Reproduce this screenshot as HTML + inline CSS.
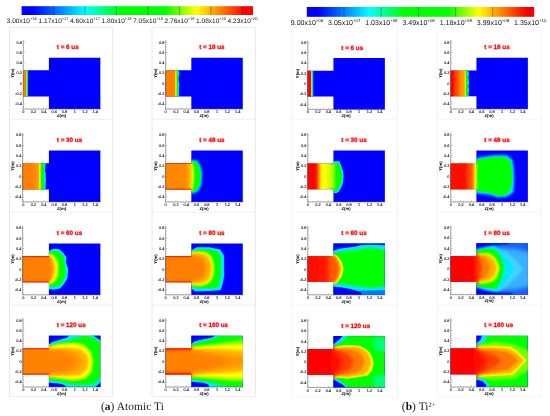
<!DOCTYPE html><html><head><meta charset="utf-8"><title>Figure</title>
<style>html,body{margin:0;padding:0;background:#fff}svg{display:block}text{font-family:"Liberation Sans",sans-serif;text-rendering:geometricPrecision}.cap{font-family:"Liberation Serif","DejaVu Serif",serif}.ty{font-size:3.85px;text-anchor:end;fill:#000;stroke:#000;stroke-width:.08px}.tx{font-size:3.85px;text-anchor:middle;fill:#000;stroke:#000;stroke-width:.08px}.al{font-size:4.2px;font-weight:bold;text-anchor:middle;fill:#000}.tt{font-size:6.3px;font-weight:bold;fill:#f00;stroke:#f00;stroke-width:.25px}</style></head><body>
<svg width="550" height="416" viewBox="0 0 550 416">
<defs>
<linearGradient id="rb" x1="0" x2="1" y1="0" y2="0"><stop offset="0" stop-color="#0000ff"/><stop offset="0.05" stop-color="#0000ff"/><stop offset="0.14" stop-color="#0064ff"/><stop offset="0.275" stop-color="#00ffff"/><stop offset="0.43" stop-color="#00ff00"/><stop offset="0.62" stop-color="#00ff00"/><stop offset="0.755" stop-color="#ffff00"/><stop offset="0.965" stop-color="#ff0000"/><stop offset="1" stop-color="#ff0000"/></linearGradient>
<filter id="b3" x="-10%" y="-10%" width="120%" height="120%"><feGaussianBlur stdDeviation="0.3"/></filter>
<filter id="b4" x="-10%" y="-10%" width="120%" height="120%"><feGaussianBlur stdDeviation="0.4"/></filter>
<filter id="b6" x="-10%" y="-10%" width="120%" height="120%"><feGaussianBlur stdDeviation="0.6"/></filter>
<filter id="b8" x="-10%" y="-10%" width="120%" height="120%"><feGaussianBlur stdDeviation="0.8"/></filter>
<filter id="b10" x="-10%" y="-10%" width="120%" height="120%"><feGaussianBlur stdDeviation="1.0"/></filter>
<filter id="b13" x="-10%" y="-10%" width="120%" height="120%"><feGaussianBlur stdDeviation="1.3"/></filter>
<filter id="b16" x="-10%" y="-10%" width="120%" height="120%"><feGaussianBlur stdDeviation="1.6"/></filter>
<filter id="b20" x="-10%" y="-10%" width="120%" height="120%"><feGaussianBlur stdDeviation="2.0"/></filter>
<clipPath id="c00"><path d="M23.00 70.23H48.92V57.68H100.38V109.12H48.92V96.57H23.00Z"/></clipPath>
<clipPath id="c01"><path d="M22.40 163.13H48.92V150.58H100.38V202.03H48.92V189.47H22.40Z"/></clipPath>
<clipPath id="c02"><path d="M22.40 256.03H48.92V243.47H100.38V294.93H48.92V282.37H22.40Z"/></clipPath>
<clipPath id="c03"><path d="M22.70 348.23H48.92V335.67H100.38V387.12H48.92V374.57H22.70Z"/></clipPath>
<clipPath id="c10"><path d="M165.40 70.23H191.32V57.68H242.78V109.12H191.32V96.57H165.40Z"/></clipPath>
<clipPath id="c11"><path d="M165.40 163.13H191.32V150.58H242.78V202.03H191.32V189.47H165.40Z"/></clipPath>
<clipPath id="c12"><path d="M165.40 256.03H191.32V243.47H242.78V294.93H191.32V282.37H165.40Z"/></clipPath>
<clipPath id="c13"><path d="M165.40 348.23H191.32V335.67H242.78V387.12H191.32V374.57H165.40Z"/></clipPath>
<clipPath id="c20"><path d="M307.50 70.84H333.43V57.98H384.88V109.43H333.43V96.56H307.50Z"/></clipPath>
<clipPath id="c21"><path d="M307.50 163.44H333.43V150.58H384.88V202.03H333.43V189.16H307.50Z"/></clipPath>
<clipPath id="c22"><path d="M307.50 256.34H333.43V243.47H384.88V294.93H333.43V282.06H307.50Z"/></clipPath>
<clipPath id="c23"><path d="M307.50 348.94H333.43V336.07H384.88V387.52H333.43V374.66H307.50Z"/></clipPath>
<clipPath id="c30"><path d="M450.50 70.54H476.43V57.68H527.88V109.12H476.43V96.26H450.50Z"/></clipPath>
<clipPath id="c31"><path d="M450.50 163.44H476.43V150.58H527.88V202.03H476.43V189.16H450.50Z"/></clipPath>
<clipPath id="c32"><path d="M450.50 256.14H476.43V243.28H527.88V294.73H476.43V281.86H450.50Z"/></clipPath>
<clipPath id="c33"><path d="M450.50 348.54H476.43V335.67H527.88V387.12H476.43V374.26H450.50Z"/></clipPath>
</defs>
<rect width="550" height="416" fill="#fff"/>
<rect x="21.6" y="6.2" width="231.4" height="8.8" fill="url(#rb)"/>
<line x1="53.4" x2="53.4" y1="6.2" y2="15.0" stroke="#222" stroke-width="0.5" stroke-opacity="0.8"/>
<line x1="84.9" x2="84.9" y1="6.2" y2="15.0" stroke="#222" stroke-width="0.5" stroke-opacity="0.8"/>
<line x1="116.4" x2="116.4" y1="6.2" y2="15.0" stroke="#222" stroke-width="0.5" stroke-opacity="0.8"/>
<line x1="147.9" x2="147.9" y1="6.2" y2="15.0" stroke="#222" stroke-width="0.5" stroke-opacity="0.8"/>
<line x1="179.4" x2="179.4" y1="6.2" y2="15.0" stroke="#222" stroke-width="0.5" stroke-opacity="0.8"/>
<line x1="210.9" x2="210.9" y1="6.2" y2="15.0" stroke="#222" stroke-width="0.5" stroke-opacity="0.8"/>
<line x1="242.4" x2="242.4" y1="6.2" y2="15.0" stroke="#222" stroke-width="0.5" stroke-opacity="0.8"/>
<text x="21.8" y="22.6" font-size="6.50" text-anchor="middle" fill="#111">3.00x10<tspan font-size="4.03" dy="-2.93">+16</tspan></text>
<text x="53.6" y="22.6" font-size="6.50" text-anchor="middle" fill="#111">1.17x10<tspan font-size="4.03" dy="-2.93">+17</tspan></text>
<text x="85.1" y="22.6" font-size="6.50" text-anchor="middle" fill="#111">4.60x10<tspan font-size="4.03" dy="-2.93">+17</tspan></text>
<text x="116.6" y="22.6" font-size="6.50" text-anchor="middle" fill="#111">1.80x10<tspan font-size="4.03" dy="-2.93">+18</tspan></text>
<text x="148.1" y="22.6" font-size="6.50" text-anchor="middle" fill="#111">7.05x10<tspan font-size="4.03" dy="-2.93">+18</tspan></text>
<text x="179.6" y="22.6" font-size="6.50" text-anchor="middle" fill="#111">2.76x10<tspan font-size="4.03" dy="-2.93">+19</tspan></text>
<text x="211.1" y="22.6" font-size="6.50" text-anchor="middle" fill="#111">1.08x10<tspan font-size="4.03" dy="-2.93">+20</tspan></text>
<text x="242.6" y="22.6" font-size="6.50" text-anchor="middle" fill="#111">4.23x10<tspan font-size="4.03" dy="-2.93">+20</tspan></text>
<rect x="306.8" y="7.0" width="227.4" height="9.8" fill="url(#rb)"/>
<line x1="344.0" x2="344.0" y1="7.0" y2="16.8" stroke="#222" stroke-width="0.5" stroke-opacity="0.8"/>
<line x1="381.2" x2="381.2" y1="7.0" y2="16.8" stroke="#222" stroke-width="0.5" stroke-opacity="0.8"/>
<line x1="418.4" x2="418.4" y1="7.0" y2="16.8" stroke="#222" stroke-width="0.5" stroke-opacity="0.8"/>
<line x1="455.6" x2="455.6" y1="7.0" y2="16.8" stroke="#222" stroke-width="0.5" stroke-opacity="0.8"/>
<line x1="492.8" x2="492.8" y1="7.0" y2="16.8" stroke="#222" stroke-width="0.5" stroke-opacity="0.8"/>
<line x1="530.0" x2="530.0" y1="7.0" y2="16.8" stroke="#222" stroke-width="0.5" stroke-opacity="0.8"/>
<text x="307.0" y="25.3" font-size="7.00" text-anchor="middle" fill="#111">9.00x10<tspan font-size="4.34" dy="-3.15">+06</tspan></text>
<text x="344.2" y="25.3" font-size="7.00" text-anchor="middle" fill="#111">3.05x10<tspan font-size="4.34" dy="-3.15">+07</tspan></text>
<text x="381.4" y="25.3" font-size="7.00" text-anchor="middle" fill="#111">1.03x10<tspan font-size="4.34" dy="-3.15">+08</tspan></text>
<text x="418.6" y="25.3" font-size="7.00" text-anchor="middle" fill="#111">3.49x10<tspan font-size="4.34" dy="-3.15">+08</tspan></text>
<text x="455.8" y="25.3" font-size="7.00" text-anchor="middle" fill="#111">1.18x10<tspan font-size="4.34" dy="-3.15">+09</tspan></text>
<text x="493.0" y="25.3" font-size="7.00" text-anchor="middle" fill="#111">3.99x10<tspan font-size="4.34" dy="-3.15">+09</tspan></text>
<text x="530.2" y="25.3" font-size="7.00" text-anchor="middle" fill="#111">1.35x10<tspan font-size="4.34" dy="-3.15">+10</tspan></text>
<path d="M9.5 27.4H112.7M9.5 119.3H112.7M9.5 212.2H112.7M9.5 305.1H112.7M9.5 396.5H112.7" fill="none" stroke="#ebebeb" stroke-width="0.8"/>
<path d="M9.5 27.4V396.5M112.7 27.4V396.5" fill="none" stroke="#e4e4e4" stroke-width="0.9"/>
<path d="M152.0 27.4H255.3M152.0 119.3H255.3M152.0 212.2H255.3M152.0 305.1H255.3M152.0 396.5H255.3" fill="none" stroke="#ebebeb" stroke-width="0.8"/>
<path d="M152.0 27.4V396.5M255.3 27.4V396.5" fill="none" stroke="#e4e4e4" stroke-width="0.9"/>
<path d="M291.6 27.4H397.5M291.6 119.3H397.5M291.6 212.2H397.5M291.6 305.1H397.5M291.6 396.5H397.5" fill="none" stroke="#f4f4f4" stroke-width="0.8"/>
<path d="M291.6 27.4V396.5M397.5 27.4V396.5" fill="none" stroke="#f2f2f2" stroke-width="0.9"/>
<path d="M437.3 27.4H540.8M437.3 119.3H540.8M437.3 212.2H540.8M437.3 305.1H540.8M437.3 396.5H540.8" fill="none" stroke="#f4f4f4" stroke-width="0.8"/>
<path d="M437.3 27.4V396.5M540.8 27.4V396.5" fill="none" stroke="#f2f2f2" stroke-width="0.9"/>
<g clip-path="url(#c00)">
<rect x="21.2" y="55.7" width="81.2" height="55.5" fill="#0000ff"/>
<g filter="url(#b4)">
<rect x="18.1" y="66.4" width="8.6" height="34.0" fill="#ff8000"/>
<rect x="26.2" y="66.4" width="1.0" height="34.0" fill="#ffff00"/>
<rect x="26.7" y="66.4" width="1.1" height="34.0" fill="#00ff00"/>
<rect x="27.3" y="66.4" width="0.8" height="34.0" fill="#00e8ff"/>
</g></g>
<path d="M23.2 39.9V109.1H100.4" fill="none" stroke="#5a5a66" stroke-width="0.5"/>
<path d="M23.2 109.1h0.8M23.2 106.6h0.8M23.2 104.0h1.5M23.2 101.4h0.8M23.2 98.8h0.8M23.2 96.3h0.8M23.2 93.7h1.5M23.2 91.1h0.8M23.2 88.5h0.8M23.2 86.0h0.8M23.2 83.4h1.5M23.2 80.8h0.8M23.2 78.3h0.8M23.2 75.7h0.8M23.2 73.1h1.5M23.2 70.5h0.8M23.2 68.0h0.8M23.2 65.4h0.8M23.2 62.8h1.5M23.2 60.2h0.8M23.2 57.7h0.8M23.2 55.1h0.8M23.2 52.5h1.5M23.2 50.0h0.8M23.2 47.4h0.8M23.2 44.8h0.8M23.2 42.2h1.5M23.2 109.1v-1.5M25.8 109.1v-0.8M28.3 109.1v-0.8M30.9 109.1v-0.8M33.5 109.1v-1.5M36.1 109.1v-0.8M38.6 109.1v-0.8M41.2 109.1v-0.8M43.8 109.1v-1.5M46.4 109.1v-0.8M48.9 109.1v-0.8M51.5 109.1v-0.8M54.1 109.1v-1.5M56.6 109.1v-0.8M59.2 109.1v-0.8M61.8 109.1v-0.8M64.4 109.1v-1.5M66.9 109.1v-0.8M69.5 109.1v-0.8M72.1 109.1v-0.8M74.7 109.1v-1.5M77.2 109.1v-0.8M79.8 109.1v-0.8M82.4 109.1v-0.8M84.9 109.1v-1.5M87.5 109.1v-0.8M90.1 109.1v-0.8M92.7 109.1v-0.8M95.2 109.1v-1.5M97.8 109.1v-0.8M100.4 109.1v-0.8" stroke="#5a5a66" stroke-width="0.45" fill="none"/>
<text x="21.9" y="43.5" class="ty">0.8</text>
<text x="21.9" y="53.8" class="ty">0.6</text>
<text x="21.9" y="64.1" class="ty">0.4</text>
<text x="21.9" y="74.4" class="ty">0.2</text>
<text x="21.9" y="84.7" class="ty">0</text>
<text x="21.9" y="95.0" class="ty">-0.2</text>
<text x="21.9" y="105.3" class="ty">-0.4</text>
<text x="23.2" y="113.1" class="tx">0</text>
<text x="33.5" y="113.1" class="tx">0.2</text>
<text x="43.8" y="113.1" class="tx">0.4</text>
<text x="54.1" y="113.1" class="tx">0.6</text>
<text x="64.4" y="113.1" class="tx">0.8</text>
<text x="74.7" y="113.1" class="tx">1</text>
<text x="84.9" y="113.1" class="tx">1.2</text>
<text x="95.2" y="113.1" class="tx">1.4</text>
<text x="61.6" y="116.7" class="al">Z(m)</text>
<text transform="translate(14.4 73.2) rotate(-90)" class="al">Y(m)</text>
<text x="56.8" y="49.2" class="tt">t = 6 us</text>
<g clip-path="url(#c01)">
<rect x="21.2" y="148.6" width="81.2" height="55.5" fill="#0000ff"/>
<g filter="url(#b4)">
<polygon points="33.5,159.3 45.3,159.3 45.9,163.4 45.3,166.7 44.7,169.9 45.8,173.1 45.6,176.3 45.9,179.5 45.7,182.7 45.6,185.9 45.5,189.2 45.3,193.3 33.5,193.3" fill="#00e8ff"/>
<polygon points="33.5,159.3 44.3,159.3 44.2,163.4 44.4,166.7 44.3,169.9 44.4,173.1 44.1,176.3 44.2,179.5 44.3,182.7 44.4,185.9 44.4,189.2 44.3,193.3 33.5,193.3" fill="#00ff00"/>
</g><g filter="url(#b4)">
<rect x="33.5" y="159.3" width="7.1" height="34.0" fill="#ffff00"/>
</g><g filter="url(#b6)">
<rect x="28.3" y="159.3" width="10.9" height="34.0" fill="#ffb010"/>
</g><g filter="url(#b8)">
<rect x="18.1" y="159.3" width="19.8" height="34.0" fill="#ff8c08"/>
</g><g filter="url(#b13)">
<rect x="18.1" y="159.3" width="15.4" height="34.0" fill="#ff8000"/>
</g></g>
<path d="M22.6 132.8V202.0H100.4" fill="none" stroke="#5a5a66" stroke-width="0.5"/>
<path d="M22.6 202.0h0.8M22.6 199.5h0.8M22.6 196.9h1.5M22.6 194.3h0.8M22.6 191.7h0.8M22.6 189.2h0.8M22.6 186.6h1.5M22.6 184.0h0.8M22.6 181.4h0.8M22.6 178.9h0.8M22.6 176.3h1.5M22.6 173.7h0.8M22.6 171.2h0.8M22.6 168.6h0.8M22.6 166.0h1.5M22.6 163.4h0.8M22.6 160.9h0.8M22.6 158.3h0.8M22.6 155.7h1.5M22.6 153.1h0.8M22.6 150.6h0.8M22.6 148.0h0.8M22.6 145.4h1.5M22.6 142.9h0.8M22.6 140.3h0.8M22.6 137.7h0.8M22.6 135.1h1.5M23.2 202.0v-1.5M25.8 202.0v-0.8M28.3 202.0v-0.8M30.9 202.0v-0.8M33.5 202.0v-1.5M36.1 202.0v-0.8M38.6 202.0v-0.8M41.2 202.0v-0.8M43.8 202.0v-1.5M46.4 202.0v-0.8M48.9 202.0v-0.8M51.5 202.0v-0.8M54.1 202.0v-1.5M56.6 202.0v-0.8M59.2 202.0v-0.8M61.8 202.0v-0.8M64.4 202.0v-1.5M66.9 202.0v-0.8M69.5 202.0v-0.8M72.1 202.0v-0.8M74.7 202.0v-1.5M77.2 202.0v-0.8M79.8 202.0v-0.8M82.4 202.0v-0.8M84.9 202.0v-1.5M87.5 202.0v-0.8M90.1 202.0v-0.8M92.7 202.0v-0.8M95.2 202.0v-1.5M97.8 202.0v-0.8M100.4 202.0v-0.8" stroke="#5a5a66" stroke-width="0.45" fill="none"/>
<text x="21.3" y="136.4" class="ty">0.8</text>
<text x="21.3" y="146.7" class="ty">0.6</text>
<text x="21.3" y="157.0" class="ty">0.4</text>
<text x="21.3" y="167.3" class="ty">0.2</text>
<text x="21.3" y="177.6" class="ty">0</text>
<text x="21.3" y="187.9" class="ty">-0.2</text>
<text x="21.3" y="198.2" class="ty">-0.4</text>
<text x="23.2" y="206.0" class="tx">0</text>
<text x="33.5" y="206.0" class="tx">0.2</text>
<text x="43.8" y="206.0" class="tx">0.4</text>
<text x="54.1" y="206.0" class="tx">0.6</text>
<text x="64.4" y="206.0" class="tx">0.8</text>
<text x="74.7" y="206.0" class="tx">1</text>
<text x="84.9" y="206.0" class="tx">1.2</text>
<text x="95.2" y="206.0" class="tx">1.4</text>
<text x="61.6" y="209.6" class="al">Z(m)</text>
<text transform="translate(13.8 166.1) rotate(-90)" class="al">Y(m)</text>
<text x="56.8" y="142.1" class="tt">t = 30 us</text>
<g clip-path="url(#c02)">
<rect x="21.2" y="241.5" width="81.2" height="55.5" fill="#0000ff"/>
<g filter="url(#b4)">
<rect x="18.1" y="252.2" width="30.9" height="34.0" fill="#ff8000"/>
<polygon points="48.6,251.2 53.2,248.8 58.9,249.1 63.3,252.9 66.6,257.3 65.8,262.2 68.2,268.7 67.4,278.5 64.1,283.8 60.1,288.4 53.2,289.7 48.6,288.9" fill="#00e8ff"/>
<polygon points="48.6,252.5 53.2,250.4 58.1,250.9 61.7,254.2 64.5,258.3 64.1,263.0 65.8,268.7 65.1,277.7 62.2,282.5 58.6,286.4 53.2,287.2 48.6,285.6" fill="#00ff00"/>
</g><g filter="url(#b8)">
<polygon points="47.5,254.3 51.9,254.3 55.8,257.8 57.8,263.0 58.4,268.7 57.8,275.3 55.3,280.5 51.1,283.9 47.5,284.3" fill="#ffff00"/>
</g><g filter="url(#b10)">
<polygon points="45.8,255.6 51.1,256.5 54.0,261.9 55.3,268.7 54.0,275.6 51.1,281.5 45.8,282.5" fill="#ffb000"/>
<polygon points="13.1,250.7 48.4,250.7 48.6,256.0 51.1,258.9 52.4,268.7 51.1,278.5 48.6,281.8 48.4,287.1 13.1,287.1" fill="#ff8000"/>
</g><g filter="url(#b4)">
<rect x="18.1" y="252.2" width="30.9" height="4.9" fill="#ff2000"/>
<rect x="18.1" y="281.3" width="30.9" height="4.9" fill="#ff2000"/>
</g></g>
<path d="M22.6 225.7V294.9H100.4" fill="none" stroke="#5a5a66" stroke-width="0.5"/>
<path d="M22.6 294.9h0.8M22.6 292.4h0.8M22.6 289.8h1.5M22.6 287.2h0.8M22.6 284.6h0.8M22.6 282.1h0.8M22.6 279.5h1.5M22.6 276.9h0.8M22.6 274.3h0.8M22.6 271.8h0.8M22.6 269.2h1.5M22.6 266.6h0.8M22.6 264.1h0.8M22.6 261.5h0.8M22.6 258.9h1.5M22.6 256.3h0.8M22.6 253.8h0.8M22.6 251.2h0.8M22.6 248.6h1.5M22.6 246.0h0.8M22.6 243.5h0.8M22.6 240.9h0.8M22.6 238.3h1.5M22.6 235.8h0.8M22.6 233.2h0.8M22.6 230.6h0.8M22.6 228.0h1.5M23.2 294.9v-1.5M25.8 294.9v-0.8M28.3 294.9v-0.8M30.9 294.9v-0.8M33.5 294.9v-1.5M36.1 294.9v-0.8M38.6 294.9v-0.8M41.2 294.9v-0.8M43.8 294.9v-1.5M46.4 294.9v-0.8M48.9 294.9v-0.8M51.5 294.9v-0.8M54.1 294.9v-1.5M56.6 294.9v-0.8M59.2 294.9v-0.8M61.8 294.9v-0.8M64.4 294.9v-1.5M66.9 294.9v-0.8M69.5 294.9v-0.8M72.1 294.9v-0.8M74.7 294.9v-1.5M77.2 294.9v-0.8M79.8 294.9v-0.8M82.4 294.9v-0.8M84.9 294.9v-1.5M87.5 294.9v-0.8M90.1 294.9v-0.8M92.7 294.9v-0.8M95.2 294.9v-1.5M97.8 294.9v-0.8M100.4 294.9v-0.8" stroke="#5a5a66" stroke-width="0.45" fill="none"/>
<text x="21.3" y="229.3" class="ty">0.8</text>
<text x="21.3" y="239.6" class="ty">0.6</text>
<text x="21.3" y="249.9" class="ty">0.4</text>
<text x="21.3" y="260.2" class="ty">0.2</text>
<text x="21.3" y="270.5" class="ty">0</text>
<text x="21.3" y="280.8" class="ty">-0.2</text>
<text x="21.3" y="291.1" class="ty">-0.4</text>
<text x="23.2" y="298.9" class="tx">0</text>
<text x="33.5" y="298.9" class="tx">0.2</text>
<text x="43.8" y="298.9" class="tx">0.4</text>
<text x="54.1" y="298.9" class="tx">0.6</text>
<text x="64.4" y="298.9" class="tx">0.8</text>
<text x="74.7" y="298.9" class="tx">1</text>
<text x="84.9" y="298.9" class="tx">1.2</text>
<text x="95.2" y="298.9" class="tx">1.4</text>
<text x="61.6" y="302.5" class="al">Z(m)</text>
<text transform="translate(13.8 259.0) rotate(-90)" class="al">Y(m)</text>
<text x="56.8" y="235.0" class="tt">t = 60 us</text>
<g clip-path="url(#c03)">
<rect x="21.2" y="333.7" width="81.2" height="55.5" fill="#0000ff"/>
<g filter="url(#b4)">
<rect x="48.9" y="335.7" width="51.5" height="51.5" fill="#00ff00"/>
<rect x="18.1" y="344.4" width="30.9" height="34.0" fill="#ff8000"/>
</g><g filter="url(#b8)">
<polygon points="47.7,334.6 82.6,334.6 77.7,338.0 72.3,338.8 68.5,340.6 61.4,341.7 55.9,342.8 51.5,344.2 47.7,346.4" fill="#00e8ff"/>
<polygon points="86.5,334.6 102.3,334.6 102.3,343.4 97.4,340.1 93.0,338.0" fill="#00e8ff"/>
<polygon points="47.7,379.9 51.5,380.7 55.9,381.2 61.4,381.8 66.8,383.2 73.4,384.3 81.0,385.0 88.6,384.8 94.1,383.7 97.4,381.0 102.3,377.2 102.3,389.2 47.7,389.2" fill="#00e8ff"/>
</g><g filter="url(#b4)">
<polygon points="47.7,334.6 69.9,334.6 67.1,337.6 61.6,339.3 56.1,341.0 51.8,342.1 50.7,343.4 47.7,344.6" fill="#0000ff"/>
<polygon points="91.9,334.6 102.3,334.6 102.3,341.4 98.5,338.9 96.1,337.5" fill="#0000ff"/>
<polygon points="47.7,382.3 51.5,382.9 55.9,383.2 61.6,383.9 65.1,385.6 67.9,389.2 47.7,389.2" fill="#0000ff"/>
<polygon points="93.0,389.2 102.3,389.2 102.3,381.0 98.2,384.5" fill="#0000ff"/>
</g><g filter="url(#b8)">
<polygon points="47.5,346.7 58.9,344.1 73.6,343.1 83.8,344.7 90.5,351.6 93.1,361.7 91.3,371.9 85.4,378.6 73.6,380.4 60.5,378.7 47.5,376.9" fill="#ffff00"/>
</g><g filter="url(#b13)">
<polygon points="47.5,349.0 67.1,347.7 80.3,349.3 86.9,355.2 88.7,361.7 86.9,369.1 80.3,375.0 67.1,376.0 47.5,375.3" fill="#ffb400"/>
</g><g filter="url(#b16)">
<polygon points="42.5,350.3 63.8,349.9 76.9,353.1 83.1,361.7 76.9,370.7 63.8,373.5 42.5,373.5" fill="#ff9600"/>
</g><g filter="url(#b20)">
<polygon points="13.1,343.7 48.4,343.7 48.6,350.3 63.8,352.7 72.3,357.6 74.9,361.7 72.3,365.8 63.8,370.7 48.6,373.5 48.4,380.1 13.1,380.1" fill="#ff8200"/>
</g><g filter="url(#b4)">
<rect x="18.1" y="344.4" width="30.9" height="4.9" fill="#ff2000"/>
<rect x="18.1" y="373.5" width="30.9" height="4.9" fill="#ff2000"/>
</g></g>
<path d="M22.9 317.9V387.1H100.4" fill="none" stroke="#5a5a66" stroke-width="0.5"/>
<path d="M22.9 387.1h0.8M22.9 384.6h0.8M22.9 382.0h1.5M22.9 379.4h0.8M22.9 376.8h0.8M22.9 374.3h0.8M22.9 371.7h1.5M22.9 369.1h0.8M22.9 366.5h0.8M22.9 364.0h0.8M22.9 361.4h1.5M22.9 358.8h0.8M22.9 356.3h0.8M22.9 353.7h0.8M22.9 351.1h1.5M22.9 348.5h0.8M22.9 346.0h0.8M22.9 343.4h0.8M22.9 340.8h1.5M22.9 338.2h0.8M22.9 335.7h0.8M22.9 333.1h0.8M22.9 330.5h1.5M22.9 328.0h0.8M22.9 325.4h0.8M22.9 322.8h0.8M22.9 320.2h1.5M23.2 387.1v-1.5M25.8 387.1v-0.8M28.3 387.1v-0.8M30.9 387.1v-0.8M33.5 387.1v-1.5M36.1 387.1v-0.8M38.6 387.1v-0.8M41.2 387.1v-0.8M43.8 387.1v-1.5M46.4 387.1v-0.8M48.9 387.1v-0.8M51.5 387.1v-0.8M54.1 387.1v-1.5M56.6 387.1v-0.8M59.2 387.1v-0.8M61.8 387.1v-0.8M64.4 387.1v-1.5M66.9 387.1v-0.8M69.5 387.1v-0.8M72.1 387.1v-0.8M74.7 387.1v-1.5M77.2 387.1v-0.8M79.8 387.1v-0.8M82.4 387.1v-0.8M84.9 387.1v-1.5M87.5 387.1v-0.8M90.1 387.1v-0.8M92.7 387.1v-0.8M95.2 387.1v-1.5M97.8 387.1v-0.8M100.4 387.1v-0.8" stroke="#5a5a66" stroke-width="0.45" fill="none"/>
<text x="21.6" y="321.5" class="ty">0.8</text>
<text x="21.6" y="331.8" class="ty">0.6</text>
<text x="21.6" y="342.1" class="ty">0.4</text>
<text x="21.6" y="352.4" class="ty">0.2</text>
<text x="21.6" y="362.7" class="ty">0</text>
<text x="21.6" y="373.0" class="ty">-0.2</text>
<text x="21.6" y="383.3" class="ty">-0.4</text>
<text x="23.2" y="391.1" class="tx">0</text>
<text x="33.5" y="391.1" class="tx">0.2</text>
<text x="43.8" y="391.1" class="tx">0.4</text>
<text x="54.1" y="391.1" class="tx">0.6</text>
<text x="64.4" y="391.1" class="tx">0.8</text>
<text x="74.7" y="391.1" class="tx">1</text>
<text x="84.9" y="391.1" class="tx">1.2</text>
<text x="95.2" y="391.1" class="tx">1.4</text>
<text x="61.6" y="394.7" class="al">Z(m)</text>
<text transform="translate(14.1 351.2) rotate(-90)" class="al">Y(m)</text>
<text x="56.8" y="327.2" class="tt">t = 120 us</text>
<g clip-path="url(#c10)">
<rect x="163.6" y="55.7" width="81.2" height="55.5" fill="#0000ff"/>
<g filter="url(#b4)">
<polygon points="170.7,66.4 179.1,66.4 178.8,70.5 179.5,73.8 178.5,77.0 178.5,80.2 179.2,83.4 179.2,86.6 178.9,89.8 179.1,93.0 178.8,96.3 179.1,100.4 170.7,100.4" fill="#00e8ff"/>
<polygon points="170.7,66.4 178.2,66.4 178.3,70.5 178.3,73.8 178.4,77.0 178.2,80.2 178.0,83.4 178.1,86.6 178.2,89.8 178.0,93.0 178.1,96.3 178.2,100.4 170.7,100.4" fill="#00ff00"/>
<rect x="170.7" y="66.4" width="5.8" height="34.0" fill="#ffff00"/>
<rect x="160.5" y="66.4" width="14.8" height="34.0" fill="#ff8000"/>
</g></g>
<path d="M165.6 39.9V109.1H242.8" fill="none" stroke="#5a5a66" stroke-width="0.5"/>
<path d="M165.6 109.1h0.8M165.6 106.6h0.8M165.6 104.0h1.5M165.6 101.4h0.8M165.6 98.8h0.8M165.6 96.3h0.8M165.6 93.7h1.5M165.6 91.1h0.8M165.6 88.5h0.8M165.6 86.0h0.8M165.6 83.4h1.5M165.6 80.8h0.8M165.6 78.3h0.8M165.6 75.7h0.8M165.6 73.1h1.5M165.6 70.5h0.8M165.6 68.0h0.8M165.6 65.4h0.8M165.6 62.8h1.5M165.6 60.2h0.8M165.6 57.7h0.8M165.6 55.1h0.8M165.6 52.5h1.5M165.6 50.0h0.8M165.6 47.4h0.8M165.6 44.8h0.8M165.6 42.2h1.5M165.6 109.1v-1.5M168.2 109.1v-0.8M170.7 109.1v-0.8M173.3 109.1v-0.8M175.9 109.1v-1.5M178.5 109.1v-0.8M181.0 109.1v-0.8M183.6 109.1v-0.8M186.2 109.1v-1.5M188.8 109.1v-0.8M191.3 109.1v-0.8M193.9 109.1v-0.8M196.5 109.1v-1.5M199.0 109.1v-0.8M201.6 109.1v-0.8M204.2 109.1v-0.8M206.8 109.1v-1.5M209.3 109.1v-0.8M211.9 109.1v-0.8M214.5 109.1v-0.8M217.1 109.1v-1.5M219.6 109.1v-0.8M222.2 109.1v-0.8M224.8 109.1v-0.8M227.3 109.1v-1.5M229.9 109.1v-0.8M232.5 109.1v-0.8M235.1 109.1v-0.8M237.6 109.1v-1.5M240.2 109.1v-0.8M242.8 109.1v-0.8" stroke="#5a5a66" stroke-width="0.45" fill="none"/>
<text x="164.3" y="43.5" class="ty">0.8</text>
<text x="164.3" y="53.8" class="ty">0.6</text>
<text x="164.3" y="64.1" class="ty">0.4</text>
<text x="164.3" y="74.4" class="ty">0.2</text>
<text x="164.3" y="84.7" class="ty">0</text>
<text x="164.3" y="95.0" class="ty">-0.2</text>
<text x="164.3" y="105.3" class="ty">-0.4</text>
<text x="165.6" y="113.1" class="tx">0</text>
<text x="175.9" y="113.1" class="tx">0.2</text>
<text x="186.2" y="113.1" class="tx">0.4</text>
<text x="196.5" y="113.1" class="tx">0.6</text>
<text x="206.8" y="113.1" class="tx">0.8</text>
<text x="217.1" y="113.1" class="tx">1</text>
<text x="227.3" y="113.1" class="tx">1.2</text>
<text x="237.6" y="113.1" class="tx">1.4</text>
<text x="204.0" y="116.7" class="al">Z(m)</text>
<text transform="translate(156.8 73.2) rotate(-90)" class="al">Y(m)</text>
<text x="199.2" y="49.2" class="tt">t = 18 us</text>
<g clip-path="url(#c11)">
<rect x="163.6" y="148.6" width="81.2" height="55.5" fill="#0000ff"/>
<g filter="url(#b4)">
<rect x="160.5" y="159.3" width="30.9" height="34.0" fill="#ff8800"/>
</g><g filter="url(#b8)">
<polygon points="190.8,159.9 197.0,160.2 199.8,164.5 201.5,169.1 202.1,174.5 201.8,181.0 201.1,185.5 199.0,190.1 195.5,192.9 190.8,193.5" fill="#00e8ff"/>
</g><g filter="url(#b4)">
<polygon points="190.8,161.3 196.4,161.5 198.7,165.1 200.2,169.3 200.7,174.5 200.4,180.8 199.7,184.9 197.8,188.9 194.8,191.4 190.8,192.0" fill="#00ff00"/>
</g><g filter="url(#b8)">
<polygon points="188.4,159.3 192.0,162.6 193.2,166.9 193.8,171.2 193.9,176.6 193.7,182.1 193.0,186.4 192.0,190.5 188.4,194.0" fill="#ffff00"/>
</g><g filter="url(#b10)">
<polygon points="184.4,159.3 190.3,161.5 191.3,168.0 191.5,176.6 191.3,184.2 190.3,191.3 184.4,194.0" fill="#ffb000"/>
</g><g filter="url(#b16)">
<polygon points="154.6,158.2 185.4,158.2 187.3,168.0 187.7,176.6 187.3,185.3 185.4,195.0 154.6,195.0" fill="#ff8800"/>
</g><g filter="url(#b3)">
<rect x="160.5" y="159.3" width="30.9" height="4.7" fill="#f02800"/>
<rect x="160.5" y="188.6" width="30.9" height="4.7" fill="#f02800"/>
</g></g>
<path d="M165.6 132.8V202.0H242.8" fill="none" stroke="#5a5a66" stroke-width="0.5"/>
<path d="M165.6 202.0h0.8M165.6 199.5h0.8M165.6 196.9h1.5M165.6 194.3h0.8M165.6 191.7h0.8M165.6 189.2h0.8M165.6 186.6h1.5M165.6 184.0h0.8M165.6 181.4h0.8M165.6 178.9h0.8M165.6 176.3h1.5M165.6 173.7h0.8M165.6 171.2h0.8M165.6 168.6h0.8M165.6 166.0h1.5M165.6 163.4h0.8M165.6 160.9h0.8M165.6 158.3h0.8M165.6 155.7h1.5M165.6 153.1h0.8M165.6 150.6h0.8M165.6 148.0h0.8M165.6 145.4h1.5M165.6 142.9h0.8M165.6 140.3h0.8M165.6 137.7h0.8M165.6 135.1h1.5M165.6 202.0v-1.5M168.2 202.0v-0.8M170.7 202.0v-0.8M173.3 202.0v-0.8M175.9 202.0v-1.5M178.5 202.0v-0.8M181.0 202.0v-0.8M183.6 202.0v-0.8M186.2 202.0v-1.5M188.8 202.0v-0.8M191.3 202.0v-0.8M193.9 202.0v-0.8M196.5 202.0v-1.5M199.0 202.0v-0.8M201.6 202.0v-0.8M204.2 202.0v-0.8M206.8 202.0v-1.5M209.3 202.0v-0.8M211.9 202.0v-0.8M214.5 202.0v-0.8M217.1 202.0v-1.5M219.6 202.0v-0.8M222.2 202.0v-0.8M224.8 202.0v-0.8M227.3 202.0v-1.5M229.9 202.0v-0.8M232.5 202.0v-0.8M235.1 202.0v-0.8M237.6 202.0v-1.5M240.2 202.0v-0.8M242.8 202.0v-0.8" stroke="#5a5a66" stroke-width="0.45" fill="none"/>
<text x="164.3" y="136.4" class="ty">0.8</text>
<text x="164.3" y="146.7" class="ty">0.6</text>
<text x="164.3" y="157.0" class="ty">0.4</text>
<text x="164.3" y="167.3" class="ty">0.2</text>
<text x="164.3" y="177.6" class="ty">0</text>
<text x="164.3" y="187.9" class="ty">-0.2</text>
<text x="164.3" y="198.2" class="ty">-0.4</text>
<text x="165.6" y="206.0" class="tx">0</text>
<text x="175.9" y="206.0" class="tx">0.2</text>
<text x="186.2" y="206.0" class="tx">0.4</text>
<text x="196.5" y="206.0" class="tx">0.6</text>
<text x="206.8" y="206.0" class="tx">0.8</text>
<text x="217.1" y="206.0" class="tx">1</text>
<text x="227.3" y="206.0" class="tx">1.2</text>
<text x="237.6" y="206.0" class="tx">1.4</text>
<text x="204.0" y="209.6" class="al">Z(m)</text>
<text transform="translate(156.8 166.1) rotate(-90)" class="al">Y(m)</text>
<text x="199.2" y="142.1" class="tt">t = 48 us</text>
<g clip-path="url(#c12)">
<rect x="163.6" y="241.5" width="81.2" height="55.5" fill="#0000ff"/>
<g filter="url(#b4)">
<rect x="160.5" y="252.2" width="30.9" height="34.0" fill="#ff8000"/>
</g><g filter="url(#b6)">
<polygon points="191.7,250.2 196.8,247.3 209.1,247.3 220.2,249.4 224.0,255.6 224.3,275.3 222.7,283.9 220.7,290.2 209.1,291.1 195.2,291.5 191.7,288.7" fill="#00e8ff"/>
</g><g filter="url(#b4)">
<polygon points="191.7,252.0 196.8,249.3 209.1,249.3 217.8,251.2 220.5,256.6 221.0,275.3 219.4,283.1 217.8,287.5 209.1,288.2 195.2,288.2 191.7,285.6" fill="#00ff00"/>
</g><g filter="url(#b8)">
<polygon points="189.2,252.3 196.2,251.6 204.5,251.9 209.6,254.5 212.6,259.5 214.0,266.5 213.7,273.5 211.6,279.9 207.5,284.1 200.3,285.9 193.4,285.5 189.2,284.5" fill="#ffff00"/>
</g><g filter="url(#b10)">
<polygon points="189.2,254.0 196.2,253.5 203.8,254.0 208.0,256.7 210.4,260.9 211.5,267.2 211.0,273.5 209.0,278.8 205.2,282.1 199.7,283.5 193.4,283.3 189.2,282.6" fill="#ffb000"/>
</g><g filter="url(#b16)">
<polygon points="178.0,252.6 190.6,252.6 191.3,255.6 199.0,256.3 203.4,259.1 205.7,263.7 206.2,267.9 205.4,273.5 202.9,277.4 199.0,280.2 191.3,281.6 190.6,284.6 178.0,284.6" fill="#ff8000"/>
</g><g filter="url(#b4)">
<rect x="160.5" y="252.2" width="30.9" height="4.9" fill="#ff2000"/>
<rect x="160.5" y="281.3" width="30.9" height="4.9" fill="#ff2000"/>
</g></g>
<path d="M165.6 225.7V294.9H242.8" fill="none" stroke="#5a5a66" stroke-width="0.5"/>
<path d="M165.6 294.9h0.8M165.6 292.4h0.8M165.6 289.8h1.5M165.6 287.2h0.8M165.6 284.6h0.8M165.6 282.1h0.8M165.6 279.5h1.5M165.6 276.9h0.8M165.6 274.3h0.8M165.6 271.8h0.8M165.6 269.2h1.5M165.6 266.6h0.8M165.6 264.1h0.8M165.6 261.5h0.8M165.6 258.9h1.5M165.6 256.3h0.8M165.6 253.8h0.8M165.6 251.2h0.8M165.6 248.6h1.5M165.6 246.0h0.8M165.6 243.5h0.8M165.6 240.9h0.8M165.6 238.3h1.5M165.6 235.8h0.8M165.6 233.2h0.8M165.6 230.6h0.8M165.6 228.0h1.5M165.6 294.9v-1.5M168.2 294.9v-0.8M170.7 294.9v-0.8M173.3 294.9v-0.8M175.9 294.9v-1.5M178.5 294.9v-0.8M181.0 294.9v-0.8M183.6 294.9v-0.8M186.2 294.9v-1.5M188.8 294.9v-0.8M191.3 294.9v-0.8M193.9 294.9v-0.8M196.5 294.9v-1.5M199.0 294.9v-0.8M201.6 294.9v-0.8M204.2 294.9v-0.8M206.8 294.9v-1.5M209.3 294.9v-0.8M211.9 294.9v-0.8M214.5 294.9v-0.8M217.1 294.9v-1.5M219.6 294.9v-0.8M222.2 294.9v-0.8M224.8 294.9v-0.8M227.3 294.9v-1.5M229.9 294.9v-0.8M232.5 294.9v-0.8M235.1 294.9v-0.8M237.6 294.9v-1.5M240.2 294.9v-0.8M242.8 294.9v-0.8" stroke="#5a5a66" stroke-width="0.45" fill="none"/>
<text x="164.3" y="229.3" class="ty">0.8</text>
<text x="164.3" y="239.6" class="ty">0.6</text>
<text x="164.3" y="249.9" class="ty">0.4</text>
<text x="164.3" y="260.2" class="ty">0.2</text>
<text x="164.3" y="270.5" class="ty">0</text>
<text x="164.3" y="280.8" class="ty">-0.2</text>
<text x="164.3" y="291.1" class="ty">-0.4</text>
<text x="165.6" y="298.9" class="tx">0</text>
<text x="175.9" y="298.9" class="tx">0.2</text>
<text x="186.2" y="298.9" class="tx">0.4</text>
<text x="196.5" y="298.9" class="tx">0.6</text>
<text x="206.8" y="298.9" class="tx">0.8</text>
<text x="217.1" y="298.9" class="tx">1</text>
<text x="227.3" y="298.9" class="tx">1.2</text>
<text x="237.6" y="298.9" class="tx">1.4</text>
<text x="204.0" y="302.5" class="al">Z(m)</text>
<text transform="translate(156.8 259.0) rotate(-90)" class="al">Y(m)</text>
<text x="199.2" y="235.0" class="tt">t = 80 us</text>
<g clip-path="url(#c13)">
<rect x="163.6" y="333.7" width="81.2" height="55.5" fill="#0000ff"/>
<g filter="url(#b4)">
<rect x="191.3" y="335.7" width="51.5" height="51.5" fill="#00ff00"/>
<rect x="160.5" y="344.4" width="30.9" height="34.0" fill="#ff7800"/>
</g><g filter="url(#b8)">
<polygon points="190.3,334.6 220.3,334.6 216.5,337.6 212.1,339.2 208.8,340.0 203.4,341.1 197.9,342.2 193.5,343.6 190.3,346.1" fill="#00e8ff"/>
<polygon points="190.3,378.9 195.7,380.5 203.4,381.1 208.8,382.2 214.3,383.3 218.6,384.9 225.2,386.0 231.7,389.2 190.3,389.2" fill="#00e8ff"/>
</g><g filter="url(#b4)">
<polygon points="190.3,334.6 215.4,334.6 213.4,337.0 208.8,338.2 203.4,339.3 197.9,340.4 193.8,341.8 192.7,342.9 190.3,344.3" fill="#0000ff"/>
<polygon points="190.3,381.5 195.7,382.2 203.4,382.7 208.2,384.4 209.9,389.2 190.3,389.2" fill="#0000ff"/>
</g><g filter="url(#b13)">
<polygon points="190.3,346.7 214.0,343.7 228.7,341.4 245.1,339.1 245.1,381.7 228.7,380.7 214.0,379.6 200.9,378.1 190.3,377.1" fill="#70ff00"/>
</g><g filter="url(#b8)">
<polygon points="190.3,347.5 214.0,345.5 228.7,344.5 245.1,343.7 245.1,379.1 228.7,378.7 214.0,377.8 200.9,376.8 190.3,376.0" fill="#ffff00"/>
</g><g filter="url(#b10)">
<polygon points="190.3,349.0 209.1,348.8 228.7,349.8 245.1,350.8 245.1,370.9 228.7,372.7 209.1,373.8 190.3,374.8" fill="#ffb400"/>
</g><g filter="url(#b16)">
<polygon points="184.5,350.6 209.1,352.7 228.7,355.2 245.1,356.8 245.1,365.8 228.7,367.9 209.1,370.2 184.5,372.9" fill="#ff9600"/>
</g><g filter="url(#b20)">
<polygon points="155.1,343.7 190.8,343.7 191.7,351.1 209.1,354.4 222.2,357.6 228.7,361.7 222.2,365.8 209.1,369.1 191.7,372.9 190.8,380.1 155.1,380.1" fill="#ff8200"/>
</g><g filter="url(#b10)">
<rect x="160.5" y="344.4" width="30.9" height="6.7" fill="#ff5000"/>
<rect x="160.5" y="371.7" width="30.9" height="6.7" fill="#ff5000"/>
</g><g filter="url(#b6)">
<rect x="160.5" y="344.4" width="30.9" height="5.2" fill="#ff2000"/>
<rect x="160.5" y="373.1" width="30.9" height="5.2" fill="#ff2000"/>
</g></g>
<path d="M165.6 317.9V387.1H242.8" fill="none" stroke="#5a5a66" stroke-width="0.5"/>
<path d="M165.6 387.1h0.8M165.6 384.6h0.8M165.6 382.0h1.5M165.6 379.4h0.8M165.6 376.8h0.8M165.6 374.3h0.8M165.6 371.7h1.5M165.6 369.1h0.8M165.6 366.5h0.8M165.6 364.0h0.8M165.6 361.4h1.5M165.6 358.8h0.8M165.6 356.3h0.8M165.6 353.7h0.8M165.6 351.1h1.5M165.6 348.5h0.8M165.6 346.0h0.8M165.6 343.4h0.8M165.6 340.8h1.5M165.6 338.2h0.8M165.6 335.7h0.8M165.6 333.1h0.8M165.6 330.5h1.5M165.6 328.0h0.8M165.6 325.4h0.8M165.6 322.8h0.8M165.6 320.2h1.5M165.6 387.1v-1.5M168.2 387.1v-0.8M170.7 387.1v-0.8M173.3 387.1v-0.8M175.9 387.1v-1.5M178.5 387.1v-0.8M181.0 387.1v-0.8M183.6 387.1v-0.8M186.2 387.1v-1.5M188.8 387.1v-0.8M191.3 387.1v-0.8M193.9 387.1v-0.8M196.5 387.1v-1.5M199.0 387.1v-0.8M201.6 387.1v-0.8M204.2 387.1v-0.8M206.8 387.1v-1.5M209.3 387.1v-0.8M211.9 387.1v-0.8M214.5 387.1v-0.8M217.1 387.1v-1.5M219.6 387.1v-0.8M222.2 387.1v-0.8M224.8 387.1v-0.8M227.3 387.1v-1.5M229.9 387.1v-0.8M232.5 387.1v-0.8M235.1 387.1v-0.8M237.6 387.1v-1.5M240.2 387.1v-0.8M242.8 387.1v-0.8" stroke="#5a5a66" stroke-width="0.45" fill="none"/>
<text x="164.3" y="321.5" class="ty">0.8</text>
<text x="164.3" y="331.8" class="ty">0.6</text>
<text x="164.3" y="342.1" class="ty">0.4</text>
<text x="164.3" y="352.4" class="ty">0.2</text>
<text x="164.3" y="362.7" class="ty">0</text>
<text x="164.3" y="373.0" class="ty">-0.2</text>
<text x="164.3" y="383.3" class="ty">-0.4</text>
<text x="165.6" y="391.1" class="tx">0</text>
<text x="175.9" y="391.1" class="tx">0.2</text>
<text x="186.2" y="391.1" class="tx">0.4</text>
<text x="196.5" y="391.1" class="tx">0.6</text>
<text x="206.8" y="391.1" class="tx">0.8</text>
<text x="217.1" y="391.1" class="tx">1</text>
<text x="227.3" y="391.1" class="tx">1.2</text>
<text x="237.6" y="391.1" class="tx">1.4</text>
<text x="204.0" y="394.7" class="al">Z(m)</text>
<text transform="translate(156.8 351.2) rotate(-90)" class="al">Y(m)</text>
<text x="199.2" y="327.2" class="tt">t = 160 us</text>
<g clip-path="url(#c20)">
<rect x="305.7" y="56.0" width="81.2" height="55.5" fill="#0000ff"/>
<g filter="url(#b4)">
<rect x="302.6" y="66.7" width="9.0" height="34.0" fill="#ff0000"/>
<rect x="311.0" y="66.7" width="1.0" height="34.0" fill="#ffff00"/>
<rect x="311.6" y="66.7" width="1.2" height="34.0" fill="#00ff00"/>
<rect x="312.2" y="66.7" width="1.0" height="34.0" fill="#00e8ff"/>
</g></g>
<path d="M307.7 40.2V109.4H384.9" fill="none" stroke="#5a5a66" stroke-width="0.5"/>
<path d="M307.7 109.4h0.8M307.7 106.9h0.8M307.7 104.3h1.5M307.7 101.7h0.8M307.7 99.1h0.8M307.7 96.6h0.8M307.7 94.0h1.5M307.7 91.4h0.8M307.7 88.8h0.8M307.7 86.3h0.8M307.7 83.7h1.5M307.7 81.1h0.8M307.7 78.6h0.8M307.7 76.0h0.8M307.7 73.4h1.5M307.7 70.8h0.8M307.7 68.3h0.8M307.7 65.7h0.8M307.7 63.1h1.5M307.7 60.5h0.8M307.7 58.0h0.8M307.7 55.4h0.8M307.7 52.8h1.5M307.7 50.3h0.8M307.7 47.7h0.8M307.7 45.1h0.8M307.7 42.5h1.5M307.7 109.4v-1.5M310.3 109.4v-0.8M312.8 109.4v-0.8M315.4 109.4v-0.8M318.0 109.4v-1.5M320.6 109.4v-0.8M323.1 109.4v-0.8M325.7 109.4v-0.8M328.3 109.4v-1.5M330.9 109.4v-0.8M333.4 109.4v-0.8M336.0 109.4v-0.8M338.6 109.4v-1.5M341.1 109.4v-0.8M343.7 109.4v-0.8M346.3 109.4v-0.8M348.9 109.4v-1.5M351.4 109.4v-0.8M354.0 109.4v-0.8M356.6 109.4v-0.8M359.1 109.4v-1.5M361.7 109.4v-0.8M364.3 109.4v-0.8M366.9 109.4v-0.8M369.4 109.4v-1.5M372.0 109.4v-0.8M374.6 109.4v-0.8M377.2 109.4v-0.8M379.7 109.4v-1.5M382.3 109.4v-0.8M384.9 109.4v-0.8" stroke="#5a5a66" stroke-width="0.45" fill="none"/>
<text x="306.4" y="43.8" class="ty">0.8</text>
<text x="306.4" y="54.1" class="ty">0.6</text>
<text x="306.4" y="64.4" class="ty">0.4</text>
<text x="306.4" y="74.7" class="ty">0.2</text>
<text x="306.4" y="85.0" class="ty">0</text>
<text x="306.4" y="95.3" class="ty">-0.2</text>
<text x="306.4" y="105.6" class="ty">-0.4</text>
<text x="307.7" y="113.4" class="tx">0</text>
<text x="318.0" y="113.4" class="tx">0.2</text>
<text x="328.3" y="113.4" class="tx">0.4</text>
<text x="338.6" y="113.4" class="tx">0.6</text>
<text x="348.9" y="113.4" class="tx">0.8</text>
<text x="359.1" y="113.4" class="tx">1</text>
<text x="369.4" y="113.4" class="tx">1.2</text>
<text x="379.7" y="113.4" class="tx">1.4</text>
<text x="346.1" y="117.0" class="al">Z(m)</text>
<text transform="translate(298.9 73.5) rotate(-90)" class="al">Y(m)</text>
<text x="341.3" y="49.5" class="tt">t = 6 us</text>
<g clip-path="url(#c21)">
<rect x="305.7" y="148.6" width="81.2" height="55.5" fill="#0000ff"/>
<g filter="url(#b4)">
</g><g filter="url(#b6)">
<polygon points="332.8,161.3 339.4,161.3 341.2,165.8 343.1,171.2 343.6,176.6 343.1,182.1 341.7,186.5 339.4,190.9 336.6,193.2 332.8,193.2" fill="#00e8ff"/>
</g><g filter="url(#b4)">
<polygon points="332.8,162.5 338.5,162.5 340.0,166.4 341.7,171.2 342.2,176.6 341.7,182.1 340.3,186.1 338.5,189.6 336.3,191.7 332.8,191.7" fill="#00ff00"/>
</g><g filter="url(#b10)">
</g><g filter="url(#b8)">
<rect x="318.0" y="163.4" width="16.6" height="25.7" fill="#b0ff00"/>
</g><g filter="url(#b13)">
<rect x="318.0" y="159.3" width="12.3" height="34.0" fill="#dcff00"/>
<rect x="302.6" y="159.3" width="23.9" height="34.0" fill="#ffff00"/>
</g><g filter="url(#b10)">
<rect x="302.6" y="159.3" width="18.0" height="34.0" fill="#ffb000"/>
<rect x="302.6" y="159.3" width="16.2" height="34.0" fill="#ff5000"/>
</g><g filter="url(#b13)">
<rect x="302.6" y="159.3" width="14.1" height="34.0" fill="#ff0000"/>
</g></g>
<path d="M307.7 132.8V202.0H384.9" fill="none" stroke="#5a5a66" stroke-width="0.5"/>
<path d="M307.7 202.0h0.8M307.7 199.5h0.8M307.7 196.9h1.5M307.7 194.3h0.8M307.7 191.7h0.8M307.7 189.2h0.8M307.7 186.6h1.5M307.7 184.0h0.8M307.7 181.4h0.8M307.7 178.9h0.8M307.7 176.3h1.5M307.7 173.7h0.8M307.7 171.2h0.8M307.7 168.6h0.8M307.7 166.0h1.5M307.7 163.4h0.8M307.7 160.9h0.8M307.7 158.3h0.8M307.7 155.7h1.5M307.7 153.1h0.8M307.7 150.6h0.8M307.7 148.0h0.8M307.7 145.4h1.5M307.7 142.9h0.8M307.7 140.3h0.8M307.7 137.7h0.8M307.7 135.1h1.5M307.7 202.0v-1.5M310.3 202.0v-0.8M312.8 202.0v-0.8M315.4 202.0v-0.8M318.0 202.0v-1.5M320.6 202.0v-0.8M323.1 202.0v-0.8M325.7 202.0v-0.8M328.3 202.0v-1.5M330.9 202.0v-0.8M333.4 202.0v-0.8M336.0 202.0v-0.8M338.6 202.0v-1.5M341.1 202.0v-0.8M343.7 202.0v-0.8M346.3 202.0v-0.8M348.9 202.0v-1.5M351.4 202.0v-0.8M354.0 202.0v-0.8M356.6 202.0v-0.8M359.1 202.0v-1.5M361.7 202.0v-0.8M364.3 202.0v-0.8M366.9 202.0v-0.8M369.4 202.0v-1.5M372.0 202.0v-0.8M374.6 202.0v-0.8M377.2 202.0v-0.8M379.7 202.0v-1.5M382.3 202.0v-0.8M384.9 202.0v-0.8" stroke="#5a5a66" stroke-width="0.45" fill="none"/>
<text x="306.4" y="136.4" class="ty">0.8</text>
<text x="306.4" y="146.7" class="ty">0.6</text>
<text x="306.4" y="157.0" class="ty">0.4</text>
<text x="306.4" y="167.3" class="ty">0.2</text>
<text x="306.4" y="177.6" class="ty">0</text>
<text x="306.4" y="187.9" class="ty">-0.2</text>
<text x="306.4" y="198.2" class="ty">-0.4</text>
<text x="307.7" y="206.0" class="tx">0</text>
<text x="318.0" y="206.0" class="tx">0.2</text>
<text x="328.3" y="206.0" class="tx">0.4</text>
<text x="338.6" y="206.0" class="tx">0.6</text>
<text x="348.9" y="206.0" class="tx">0.8</text>
<text x="359.1" y="206.0" class="tx">1</text>
<text x="369.4" y="206.0" class="tx">1.2</text>
<text x="379.7" y="206.0" class="tx">1.4</text>
<text x="346.1" y="209.6" class="al">Z(m)</text>
<text transform="translate(298.9 166.1) rotate(-90)" class="al">Y(m)</text>
<text x="341.3" y="142.1" class="tt">t = 30 us</text>
<g clip-path="url(#c22)">
<rect x="305.7" y="241.5" width="81.2" height="55.5" fill="#0000ff"/>
<g filter="url(#b4)">
<rect x="333.4" y="243.5" width="51.4" height="51.5" fill="#00ff00"/>
<rect x="302.6" y="252.2" width="30.9" height="34.0" fill="#ff4000"/>
</g><g filter="url(#b10)">
<polygon points="330.8,240.0 389.4,240.0 389.4,251.2 376.8,248.4 369.9,248.0 362.9,248.4 355.9,249.8 346.1,250.7 339.2,251.9 330.8,254.5" fill="#00e8ff"/>
<polygon points="330.8,282.0 342.0,284.2 355.9,286.0 369.9,287.7 376.8,287.4 389.4,285.5 389.4,300.0 330.8,300.0" fill="#00e8ff"/>
</g><g filter="url(#b6)">
<polygon points="358.7,290.8 389.4,290.0 389.4,300.0 358.7,300.0" fill="#0078ff"/>
</g><g filter="url(#b4)">
<polygon points="330.8,240.0 389.4,240.0 389.4,245.3 369.9,244.7 360.1,245.3 355.9,246.4 346.1,247.8 339.2,248.8 330.8,251.9" fill="#0000ff"/>
<polygon points="330.8,286.2 342.0,287.6 348.9,288.7 355.9,290.4 360.8,292.3 363.6,300.0 330.8,300.0" fill="#0000ff"/>
</g><g filter="url(#b6)">
<polygon points="332.3,253.3 337.5,256.0 341.8,261.9 343.6,268.7 341.8,276.4 337.5,282.3 332.3,285.4" fill="#ffff00"/>
</g><g filter="url(#b8)">
<polygon points="332.3,255.0 336.5,257.1 340.0,263.0 341.4,268.7 340.0,275.3 336.5,281.2 332.3,283.5" fill="#ffb000"/>
</g><g filter="url(#b10)">
<polygon points="326.5,254.8 334.1,255.6 337.7,262.2 339.0,268.7 337.7,276.1 334.1,282.5 326.5,283.5" fill="#ff5800"/>
</g><g filter="url(#b20)">
<rect x="302.6" y="252.2" width="25.7" height="34.0" fill="#ff1400"/>
<rect x="302.6" y="252.2" width="15.4" height="34.0" fill="#ff0800"/>
</g></g>
<path d="M307.7 225.7V294.9H384.9" fill="none" stroke="#5a5a66" stroke-width="0.5"/>
<path d="M307.7 294.9h0.8M307.7 292.4h0.8M307.7 289.8h1.5M307.7 287.2h0.8M307.7 284.6h0.8M307.7 282.1h0.8M307.7 279.5h1.5M307.7 276.9h0.8M307.7 274.3h0.8M307.7 271.8h0.8M307.7 269.2h1.5M307.7 266.6h0.8M307.7 264.1h0.8M307.7 261.5h0.8M307.7 258.9h1.5M307.7 256.3h0.8M307.7 253.8h0.8M307.7 251.2h0.8M307.7 248.6h1.5M307.7 246.0h0.8M307.7 243.5h0.8M307.7 240.9h0.8M307.7 238.3h1.5M307.7 235.8h0.8M307.7 233.2h0.8M307.7 230.6h0.8M307.7 228.0h1.5M307.7 294.9v-1.5M310.3 294.9v-0.8M312.8 294.9v-0.8M315.4 294.9v-0.8M318.0 294.9v-1.5M320.6 294.9v-0.8M323.1 294.9v-0.8M325.7 294.9v-0.8M328.3 294.9v-1.5M330.9 294.9v-0.8M333.4 294.9v-0.8M336.0 294.9v-0.8M338.6 294.9v-1.5M341.1 294.9v-0.8M343.7 294.9v-0.8M346.3 294.9v-0.8M348.9 294.9v-1.5M351.4 294.9v-0.8M354.0 294.9v-0.8M356.6 294.9v-0.8M359.1 294.9v-1.5M361.7 294.9v-0.8M364.3 294.9v-0.8M366.9 294.9v-0.8M369.4 294.9v-1.5M372.0 294.9v-0.8M374.6 294.9v-0.8M377.2 294.9v-0.8M379.7 294.9v-1.5M382.3 294.9v-0.8M384.9 294.9v-0.8" stroke="#5a5a66" stroke-width="0.45" fill="none"/>
<text x="306.4" y="229.3" class="ty">0.8</text>
<text x="306.4" y="239.6" class="ty">0.6</text>
<text x="306.4" y="249.9" class="ty">0.4</text>
<text x="306.4" y="260.2" class="ty">0.2</text>
<text x="306.4" y="270.5" class="ty">0</text>
<text x="306.4" y="280.8" class="ty">-0.2</text>
<text x="306.4" y="291.1" class="ty">-0.4</text>
<text x="307.7" y="298.9" class="tx">0</text>
<text x="318.0" y="298.9" class="tx">0.2</text>
<text x="328.3" y="298.9" class="tx">0.4</text>
<text x="338.6" y="298.9" class="tx">0.6</text>
<text x="348.9" y="298.9" class="tx">0.8</text>
<text x="359.1" y="298.9" class="tx">1</text>
<text x="369.4" y="298.9" class="tx">1.2</text>
<text x="379.7" y="298.9" class="tx">1.4</text>
<text x="346.1" y="302.5" class="al">Z(m)</text>
<text transform="translate(298.9 259.0) rotate(-90)" class="al">Y(m)</text>
<text x="341.3" y="235.0" class="tt">t = 60 us</text>
<g clip-path="url(#c23)">
<rect x="305.7" y="334.1" width="81.2" height="55.5" fill="#0000ff"/>
<g filter="url(#b4)">
<rect x="333.4" y="336.1" width="51.4" height="51.5" fill="#00ff00"/>
<rect x="302.6" y="344.8" width="30.9" height="34.0" fill="#ff0000"/>
</g><g filter="url(#b16)">
<polygon points="374.0,338.0 387.1,338.0 387.1,351.9 377.3,351.1 373.2,345.4" fill="#00ff78"/>
<polygon points="373.2,376.5 387.1,374.0 387.1,389.5 374.8,389.5" fill="#00ff78"/>
</g><g filter="url(#b6)">
<polygon points="332.3,333.9 349.8,333.9 341.8,341.6 332.3,347.3" fill="#00e8ff"/>
<polygon points="332.3,376.5 338.0,379.7 343.7,383.5 351.1,389.5 332.3,389.5" fill="#00e8ff"/>
</g><g filter="url(#b4)">
<polygon points="332.3,333.9 344.5,333.9 339.0,340.1 332.3,344.9" fill="#0000ff"/>
<polygon points="332.3,378.7 337.2,381.4 342.9,384.8 347.5,389.5 332.3,389.5" fill="#0000ff"/>
</g><g filter="url(#b6)">
<polygon points="332.3,347.0 339.6,345.7 349.5,345.0 359.3,345.7 365.0,348.6 369.6,352.2 372.5,358.1 373.5,363.7 371.9,370.4 367.5,375.6 356.0,377.4 347.8,378.6 339.6,377.9 332.3,377.6" fill="#ffff00"/>
</g><g filter="url(#b10)">
<polygon points="332.3,348.6 339.6,347.3 349.5,346.7 358.9,347.3 364.2,349.9 367.8,352.9 370.4,358.6 371.1,363.0 368.8,370.1 365.0,374.2 356.0,375.8 347.8,376.9 339.6,376.3 332.3,376.1" fill="#ffb000"/>
</g><g filter="url(#b13)">
<polygon points="332.3,349.9 347.8,349.1 357.6,351.6 362.9,357.3 364.2,362.2 361.7,368.8 356.0,372.9 346.2,374.8 332.3,375.3" fill="#ff7800"/>
</g><g filter="url(#b16)">
<polygon points="297.1,343.7 332.9,343.7 333.4,349.9 344.5,351.6 351.1,356.5 353.7,362.2 350.3,368.8 342.9,372.9 333.4,375.0 332.9,380.1 297.1,380.1" fill="#ff4000"/>
</g><g filter="url(#b20)">
<polygon points="297.1,343.7 332.9,343.7 333.4,349.5 340.5,357.3 342.4,363.0 338.8,369.6 333.4,375.6 332.9,380.1 297.1,380.1" fill="#ff1000"/>
<rect x="302.6" y="344.8" width="28.3" height="34.0" fill="#ff0000"/>
</g></g>
<path d="M307.7 318.3V387.5H384.9" fill="none" stroke="#5a5a66" stroke-width="0.5"/>
<path d="M307.7 387.5h0.8M307.7 385.0h0.8M307.7 382.4h1.5M307.7 379.8h0.8M307.7 377.2h0.8M307.7 374.7h0.8M307.7 372.1h1.5M307.7 369.5h0.8M307.7 366.9h0.8M307.7 364.4h0.8M307.7 361.8h1.5M307.7 359.2h0.8M307.7 356.7h0.8M307.7 354.1h0.8M307.7 351.5h1.5M307.7 348.9h0.8M307.7 346.4h0.8M307.7 343.8h0.8M307.7 341.2h1.5M307.7 338.6h0.8M307.7 336.1h0.8M307.7 333.5h0.8M307.7 330.9h1.5M307.7 328.4h0.8M307.7 325.8h0.8M307.7 323.2h0.8M307.7 320.6h1.5M307.7 387.5v-1.5M310.3 387.5v-0.8M312.8 387.5v-0.8M315.4 387.5v-0.8M318.0 387.5v-1.5M320.6 387.5v-0.8M323.1 387.5v-0.8M325.7 387.5v-0.8M328.3 387.5v-1.5M330.9 387.5v-0.8M333.4 387.5v-0.8M336.0 387.5v-0.8M338.6 387.5v-1.5M341.1 387.5v-0.8M343.7 387.5v-0.8M346.3 387.5v-0.8M348.9 387.5v-1.5M351.4 387.5v-0.8M354.0 387.5v-0.8M356.6 387.5v-0.8M359.1 387.5v-1.5M361.7 387.5v-0.8M364.3 387.5v-0.8M366.9 387.5v-0.8M369.4 387.5v-1.5M372.0 387.5v-0.8M374.6 387.5v-0.8M377.2 387.5v-0.8M379.7 387.5v-1.5M382.3 387.5v-0.8M384.9 387.5v-0.8" stroke="#5a5a66" stroke-width="0.45" fill="none"/>
<text x="306.4" y="321.9" class="ty">0.8</text>
<text x="306.4" y="332.2" class="ty">0.6</text>
<text x="306.4" y="342.5" class="ty">0.4</text>
<text x="306.4" y="352.8" class="ty">0.2</text>
<text x="306.4" y="363.1" class="ty">0</text>
<text x="306.4" y="373.4" class="ty">-0.2</text>
<text x="306.4" y="383.7" class="ty">-0.4</text>
<text x="307.7" y="391.5" class="tx">0</text>
<text x="318.0" y="391.5" class="tx">0.2</text>
<text x="328.3" y="391.5" class="tx">0.4</text>
<text x="338.6" y="391.5" class="tx">0.6</text>
<text x="348.9" y="391.5" class="tx">0.8</text>
<text x="359.1" y="391.5" class="tx">1</text>
<text x="369.4" y="391.5" class="tx">1.2</text>
<text x="379.7" y="391.5" class="tx">1.4</text>
<text x="346.1" y="395.1" class="al">Z(m)</text>
<text transform="translate(298.9 351.6) rotate(-90)" class="al">Y(m)</text>
<text x="341.3" y="327.6" class="tt">t = 120 us</text>
<g clip-path="url(#c30)">
<rect x="448.7" y="55.7" width="81.2" height="55.5" fill="#0000ff"/>
<g filter="url(#b4)">
<polygon points="455.8,66.4 469.0,66.4 468.4,70.5 469.0,73.8 468.4,77.0 468.8,80.2 469.0,83.4 468.4,86.6 469.2,89.8 468.5,93.0 468.7,96.3 469.0,100.4 455.8,100.4" fill="#00e8ff"/>
<polygon points="455.8,66.4 467.9,66.4 468.0,70.5 467.8,73.8 468.1,77.0 467.8,80.2 467.8,83.4 468.0,86.6 467.8,89.8 468.1,93.0 467.8,96.3 467.9,100.4 455.8,100.4" fill="#00ff00"/>
<rect x="455.8" y="66.4" width="9.9" height="34.0" fill="#ffff00"/>
</g><g filter="url(#b6)">
<rect x="445.6" y="66.4" width="19.1" height="34.0" fill="#ff9800"/>
</g><g filter="url(#b13)">
<rect x="445.6" y="66.4" width="13.9" height="34.0" fill="#ff5000"/>
<rect x="445.6" y="66.4" width="9.3" height="34.0" fill="#ff0000"/>
</g></g>
<path d="M450.7 39.9V109.1H527.9" fill="none" stroke="#5a5a66" stroke-width="0.5"/>
<path d="M450.7 109.1h0.8M450.7 106.6h0.8M450.7 104.0h1.5M450.7 101.4h0.8M450.7 98.8h0.8M450.7 96.3h0.8M450.7 93.7h1.5M450.7 91.1h0.8M450.7 88.5h0.8M450.7 86.0h0.8M450.7 83.4h1.5M450.7 80.8h0.8M450.7 78.3h0.8M450.7 75.7h0.8M450.7 73.1h1.5M450.7 70.5h0.8M450.7 68.0h0.8M450.7 65.4h0.8M450.7 62.8h1.5M450.7 60.2h0.8M450.7 57.7h0.8M450.7 55.1h0.8M450.7 52.5h1.5M450.7 50.0h0.8M450.7 47.4h0.8M450.7 44.8h0.8M450.7 42.2h1.5M450.7 109.1v-1.5M453.3 109.1v-0.8M455.8 109.1v-0.8M458.4 109.1v-0.8M461.0 109.1v-1.5M463.6 109.1v-0.8M466.1 109.1v-0.8M468.7 109.1v-0.8M471.3 109.1v-1.5M473.9 109.1v-0.8M476.4 109.1v-0.8M479.0 109.1v-0.8M481.6 109.1v-1.5M484.1 109.1v-0.8M486.7 109.1v-0.8M489.3 109.1v-0.8M491.9 109.1v-1.5M494.4 109.1v-0.8M497.0 109.1v-0.8M499.6 109.1v-0.8M502.1 109.1v-1.5M504.7 109.1v-0.8M507.3 109.1v-0.8M509.9 109.1v-0.8M512.4 109.1v-1.5M515.0 109.1v-0.8M517.6 109.1v-0.8M520.2 109.1v-0.8M522.7 109.1v-1.5M525.3 109.1v-0.8M527.9 109.1v-0.8" stroke="#5a5a66" stroke-width="0.45" fill="none"/>
<text x="449.4" y="43.5" class="ty">0.8</text>
<text x="449.4" y="53.8" class="ty">0.6</text>
<text x="449.4" y="64.1" class="ty">0.4</text>
<text x="449.4" y="74.4" class="ty">0.2</text>
<text x="449.4" y="84.7" class="ty">0</text>
<text x="449.4" y="95.0" class="ty">-0.2</text>
<text x="449.4" y="105.3" class="ty">-0.4</text>
<text x="450.7" y="113.1" class="tx">0</text>
<text x="461.0" y="113.1" class="tx">0.2</text>
<text x="471.3" y="113.1" class="tx">0.4</text>
<text x="481.6" y="113.1" class="tx">0.6</text>
<text x="491.9" y="113.1" class="tx">0.8</text>
<text x="502.1" y="113.1" class="tx">1</text>
<text x="512.4" y="113.1" class="tx">1.2</text>
<text x="522.7" y="113.1" class="tx">1.4</text>
<text x="489.1" y="116.7" class="al">Z(m)</text>
<text transform="translate(441.9 73.2) rotate(-90)" class="al">Y(m)</text>
<text x="484.3" y="49.2" class="tt">t = 18 us</text>
<g clip-path="url(#c31)">
<rect x="448.7" y="148.6" width="81.2" height="55.5" fill="#0000ff"/>
<g filter="url(#b4)">
<rect x="445.6" y="159.3" width="30.9" height="34.0" fill="#ffff00"/>
</g><g filter="url(#b8)">
<polygon points="476.4,158.1 482.6,156.9 494.1,155.3 506.7,155.3 512.6,159.9 513.9,169.2 514.2,182.3 513.4,192.4 506.7,196.7 497.4,197.5 490.8,195.0 482.6,193.9 476.4,193.4" fill="#00e8ff"/>
</g><g filter="url(#b6)">
<polygon points="476.4,160.2 482.6,158.5 494.1,156.9 505.5,156.9 510.5,161.0 511.8,169.2 512.1,182.3 510.5,190.5 505.5,195.0 497.4,195.7 490.8,192.9 482.6,192.1 476.4,191.3" fill="#00ff00"/>
</g><g filter="url(#b8)">
<rect x="450.7" y="163.4" width="26.0" height="25.7" fill="#ffff00"/>
</g><g filter="url(#b10)">
<rect x="445.6" y="159.3" width="29.1" height="34.0" fill="#ffb000"/>
</g><g filter="url(#b13)">
<rect x="445.6" y="159.3" width="27.3" height="34.0" fill="#ff5000"/>
</g><g filter="url(#b16)">
<rect x="445.6" y="159.3" width="21.6" height="34.0" fill="#ff1000"/>
</g></g>
<path d="M450.7 132.8V202.0H527.9" fill="none" stroke="#5a5a66" stroke-width="0.5"/>
<path d="M450.7 202.0h0.8M450.7 199.5h0.8M450.7 196.9h1.5M450.7 194.3h0.8M450.7 191.7h0.8M450.7 189.2h0.8M450.7 186.6h1.5M450.7 184.0h0.8M450.7 181.4h0.8M450.7 178.9h0.8M450.7 176.3h1.5M450.7 173.7h0.8M450.7 171.2h0.8M450.7 168.6h0.8M450.7 166.0h1.5M450.7 163.4h0.8M450.7 160.9h0.8M450.7 158.3h0.8M450.7 155.7h1.5M450.7 153.1h0.8M450.7 150.6h0.8M450.7 148.0h0.8M450.7 145.4h1.5M450.7 142.9h0.8M450.7 140.3h0.8M450.7 137.7h0.8M450.7 135.1h1.5M450.7 202.0v-1.5M453.3 202.0v-0.8M455.8 202.0v-0.8M458.4 202.0v-0.8M461.0 202.0v-1.5M463.6 202.0v-0.8M466.1 202.0v-0.8M468.7 202.0v-0.8M471.3 202.0v-1.5M473.9 202.0v-0.8M476.4 202.0v-0.8M479.0 202.0v-0.8M481.6 202.0v-1.5M484.1 202.0v-0.8M486.7 202.0v-0.8M489.3 202.0v-0.8M491.9 202.0v-1.5M494.4 202.0v-0.8M497.0 202.0v-0.8M499.6 202.0v-0.8M502.1 202.0v-1.5M504.7 202.0v-0.8M507.3 202.0v-0.8M509.9 202.0v-0.8M512.4 202.0v-1.5M515.0 202.0v-0.8M517.6 202.0v-0.8M520.2 202.0v-0.8M522.7 202.0v-1.5M525.3 202.0v-0.8M527.9 202.0v-0.8" stroke="#5a5a66" stroke-width="0.45" fill="none"/>
<text x="449.4" y="136.4" class="ty">0.8</text>
<text x="449.4" y="146.7" class="ty">0.6</text>
<text x="449.4" y="157.0" class="ty">0.4</text>
<text x="449.4" y="167.3" class="ty">0.2</text>
<text x="449.4" y="177.6" class="ty">0</text>
<text x="449.4" y="187.9" class="ty">-0.2</text>
<text x="449.4" y="198.2" class="ty">-0.4</text>
<text x="450.7" y="206.0" class="tx">0</text>
<text x="461.0" y="206.0" class="tx">0.2</text>
<text x="471.3" y="206.0" class="tx">0.4</text>
<text x="481.6" y="206.0" class="tx">0.6</text>
<text x="491.9" y="206.0" class="tx">0.8</text>
<text x="502.1" y="206.0" class="tx">1</text>
<text x="512.4" y="206.0" class="tx">1.2</text>
<text x="522.7" y="206.0" class="tx">1.4</text>
<text x="489.1" y="209.6" class="al">Z(m)</text>
<text transform="translate(441.9 166.1) rotate(-90)" class="al">Y(m)</text>
<text x="484.3" y="142.1" class="tt">t = 48 us</text>
<g clip-path="url(#c32)">
<rect x="448.7" y="241.3" width="81.2" height="55.5" fill="#0000ff"/>
<g filter="url(#b4)">
<rect x="476.4" y="243.3" width="51.4" height="51.5" fill="#1460ff"/>
<rect x="445.6" y="252.0" width="30.9" height="34.0" fill="#ff0000"/>
</g><g filter="url(#b20)">
<polygon points="493.7,247.0 516.0,249.1 535.6,253.3 535.6,285.3 516.0,289.5 493.7,291.2" fill="#38b0ff"/>
</g><g filter="url(#b16)">
<polygon points="486.7,247.0 506.3,251.9 516.7,260.9 523.0,268.6 516.7,277.0 507.7,285.3 497.9,291.3 481.2,290.2" fill="#40d4ff"/>
</g><g filter="url(#b13)">
<polygon points="472.8,240.0 516.0,240.0 506.3,244.2 493.7,245.0 481.2,247.8 472.8,251.9" fill="#0000ff"/>
<polygon points="472.8,284.9 481.2,288.8 490.9,291.9 511.9,293.3 516.0,297.2 472.8,297.2" fill="#0000ff"/>
</g><g filter="url(#b10)">
<polygon points="474.2,249.5 493.7,246.0 500.3,250.2 506.6,257.9 512.1,265.1 513.7,269.3 509.5,276.6 505.2,282.1 501.0,289.1 496.5,291.3 474.2,287.2" fill="#00e8ff"/>
</g><g filter="url(#b6)">
<polygon points="474.2,252.3 481.2,248.7 492.3,248.4 497.9,252.6 501.4,258.1 504.2,266.5 502.8,274.9 500.0,281.9 496.5,288.8 488.1,288.1 481.2,287.4 474.2,284.4" fill="#00ff00"/>
</g><g filter="url(#b8)">
<polygon points="474.2,253.7 489.5,253.4 495.4,258.0 498.3,263.7 499.4,268.6 497.6,275.0 494.0,280.7 486.7,283.0 474.2,283.7" fill="#ffff00"/>
</g><g filter="url(#b10)">
<polygon points="474.2,255.1 488.1,255.1 493.9,259.4 496.8,267.9 493.9,276.4 488.1,280.7 474.2,281.9" fill="#ffb000"/>
</g><g filter="url(#b13)">
<polygon points="472.8,255.6 484.0,256.7 488.4,261.9 490.0,267.9 488.4,273.9 484.0,279.1 472.8,281.2" fill="#ff8000"/>
</g><g filter="url(#b16)">
<polygon points="464.4,252.6 475.6,252.6 479.2,257.4 481.7,263.0 482.3,268.6 481.2,274.9 479.2,279.8 475.6,284.6 464.4,284.6" fill="#ff4000"/>
</g><g filter="url(#b20)">
<rect x="445.6" y="252.0" width="30.4" height="34.0" fill="#ff0000"/>
</g></g>
<path d="M450.7 225.5V294.7H527.9" fill="none" stroke="#5a5a66" stroke-width="0.5"/>
<path d="M450.7 294.7h0.8M450.7 292.2h0.8M450.7 289.6h1.5M450.7 287.0h0.8M450.7 284.4h0.8M450.7 281.9h0.8M450.7 279.3h1.5M450.7 276.7h0.8M450.7 274.1h0.8M450.7 271.6h0.8M450.7 269.0h1.5M450.7 266.4h0.8M450.7 263.9h0.8M450.7 261.3h0.8M450.7 258.7h1.5M450.7 256.1h0.8M450.7 253.6h0.8M450.7 251.0h0.8M450.7 248.4h1.5M450.7 245.8h0.8M450.7 243.3h0.8M450.7 240.7h0.8M450.7 238.1h1.5M450.7 235.6h0.8M450.7 233.0h0.8M450.7 230.4h0.8M450.7 227.8h1.5M450.7 294.7v-1.5M453.3 294.7v-0.8M455.8 294.7v-0.8M458.4 294.7v-0.8M461.0 294.7v-1.5M463.6 294.7v-0.8M466.1 294.7v-0.8M468.7 294.7v-0.8M471.3 294.7v-1.5M473.9 294.7v-0.8M476.4 294.7v-0.8M479.0 294.7v-0.8M481.6 294.7v-1.5M484.1 294.7v-0.8M486.7 294.7v-0.8M489.3 294.7v-0.8M491.9 294.7v-1.5M494.4 294.7v-0.8M497.0 294.7v-0.8M499.6 294.7v-0.8M502.1 294.7v-1.5M504.7 294.7v-0.8M507.3 294.7v-0.8M509.9 294.7v-0.8M512.4 294.7v-1.5M515.0 294.7v-0.8M517.6 294.7v-0.8M520.2 294.7v-0.8M522.7 294.7v-1.5M525.3 294.7v-0.8M527.9 294.7v-0.8" stroke="#5a5a66" stroke-width="0.45" fill="none"/>
<text x="449.4" y="229.1" class="ty">0.8</text>
<text x="449.4" y="239.4" class="ty">0.6</text>
<text x="449.4" y="249.7" class="ty">0.4</text>
<text x="449.4" y="260.0" class="ty">0.2</text>
<text x="449.4" y="270.3" class="ty">0</text>
<text x="449.4" y="280.6" class="ty">-0.2</text>
<text x="449.4" y="290.9" class="ty">-0.4</text>
<text x="450.7" y="298.7" class="tx">0</text>
<text x="461.0" y="298.7" class="tx">0.2</text>
<text x="471.3" y="298.7" class="tx">0.4</text>
<text x="481.6" y="298.7" class="tx">0.6</text>
<text x="491.9" y="298.7" class="tx">0.8</text>
<text x="502.1" y="298.7" class="tx">1</text>
<text x="512.4" y="298.7" class="tx">1.2</text>
<text x="522.7" y="298.7" class="tx">1.4</text>
<text x="489.1" y="302.3" class="al">Z(m)</text>
<text transform="translate(441.9 258.8) rotate(-90)" class="al">Y(m)</text>
<text x="484.3" y="234.8" class="tt">t = 80 us</text>
<g clip-path="url(#c33)">
<rect x="448.7" y="333.7" width="81.2" height="55.5" fill="#0000ff"/>
<g filter="url(#b4)">
<rect x="476.4" y="335.7" width="51.4" height="51.5" fill="#00ff00"/>
<rect x="445.6" y="344.4" width="30.9" height="34.0" fill="#ff0000"/>
</g><g filter="url(#b16)">
<polygon points="475.3,344.2 494.1,341.8 513.7,344.2 530.1,351.6 530.1,368.6 515.4,378.4 494.1,380.1 475.3,378.4" fill="#78ff00"/>
</g><g filter="url(#b6)">
<polygon points="475.3,333.9 487.9,333.9 485.3,341.1 475.3,346.7" fill="#00e8ff"/>
<polygon points="475.3,377.4 484.3,379.2 488.9,384.3 488.5,389.5 475.3,389.5" fill="#00e8ff"/>
</g><g filter="url(#b4)">
<polygon points="475.3,333.9 482.6,333.9 480.5,340.1 475.3,344.1" fill="#0000ff"/>
<polygon points="475.3,379.6 482.6,381.2 486.4,385.3 484.8,389.5 475.3,389.5" fill="#0000ff"/>
</g><g filter="url(#b6)">
<polygon points="475.3,346.5 494.1,345.7 510.5,346.8 517.0,350.9 521.9,355.8 526.7,360.4 521.9,365.5 517.0,370.9 512.1,375.0 494.1,376.1 475.3,376.9" fill="#ffff00"/>
</g><g filter="url(#b10)">
<polygon points="475.3,348.1 494.1,347.5 509.6,348.8 515.7,352.4 520.3,356.8 523.9,360.4 520.3,364.2 515.7,369.1 511.3,373.2 494.1,374.3 475.3,375.3" fill="#ffb000"/>
</g><g filter="url(#b13)">
<polygon points="475.3,349.5 492.5,349.5 507.2,351.9 513.7,356.0 518.1,360.4 512.9,365.8 507.2,369.9 492.5,372.4 475.3,374.5" fill="#ff7800"/>
</g><g filter="url(#b16)">
<polygon points="440.1,343.7 475.9,343.7 476.4,350.3 489.2,352.7 497.4,356.8 501.0,360.9 495.7,366.6 485.9,371.2 476.4,373.8 475.9,380.1 440.1,380.1" fill="#ff4000"/>
</g><g filter="url(#b20)">
<polygon points="440.1,343.7 475.9,343.7 476.4,349.0 484.3,356.8 486.2,361.7 482.6,368.3 476.4,375.1 475.9,380.1 440.1,380.1" fill="#ff1000"/>
<rect x="445.6" y="344.4" width="28.3" height="34.0" fill="#ff0000"/>
</g></g>
<path d="M450.7 317.9V387.1H527.9" fill="none" stroke="#5a5a66" stroke-width="0.5"/>
<path d="M450.7 387.1h0.8M450.7 384.6h0.8M450.7 382.0h1.5M450.7 379.4h0.8M450.7 376.8h0.8M450.7 374.3h0.8M450.7 371.7h1.5M450.7 369.1h0.8M450.7 366.5h0.8M450.7 364.0h0.8M450.7 361.4h1.5M450.7 358.8h0.8M450.7 356.3h0.8M450.7 353.7h0.8M450.7 351.1h1.5M450.7 348.5h0.8M450.7 346.0h0.8M450.7 343.4h0.8M450.7 340.8h1.5M450.7 338.2h0.8M450.7 335.7h0.8M450.7 333.1h0.8M450.7 330.5h1.5M450.7 328.0h0.8M450.7 325.4h0.8M450.7 322.8h0.8M450.7 320.2h1.5M450.7 387.1v-1.5M453.3 387.1v-0.8M455.8 387.1v-0.8M458.4 387.1v-0.8M461.0 387.1v-1.5M463.6 387.1v-0.8M466.1 387.1v-0.8M468.7 387.1v-0.8M471.3 387.1v-1.5M473.9 387.1v-0.8M476.4 387.1v-0.8M479.0 387.1v-0.8M481.6 387.1v-1.5M484.1 387.1v-0.8M486.7 387.1v-0.8M489.3 387.1v-0.8M491.9 387.1v-1.5M494.4 387.1v-0.8M497.0 387.1v-0.8M499.6 387.1v-0.8M502.1 387.1v-1.5M504.7 387.1v-0.8M507.3 387.1v-0.8M509.9 387.1v-0.8M512.4 387.1v-1.5M515.0 387.1v-0.8M517.6 387.1v-0.8M520.2 387.1v-0.8M522.7 387.1v-1.5M525.3 387.1v-0.8M527.9 387.1v-0.8" stroke="#5a5a66" stroke-width="0.45" fill="none"/>
<text x="449.4" y="321.5" class="ty">0.8</text>
<text x="449.4" y="331.8" class="ty">0.6</text>
<text x="449.4" y="342.1" class="ty">0.4</text>
<text x="449.4" y="352.4" class="ty">0.2</text>
<text x="449.4" y="362.7" class="ty">0</text>
<text x="449.4" y="373.0" class="ty">-0.2</text>
<text x="449.4" y="383.3" class="ty">-0.4</text>
<text x="450.7" y="391.1" class="tx">0</text>
<text x="461.0" y="391.1" class="tx">0.2</text>
<text x="471.3" y="391.1" class="tx">0.4</text>
<text x="481.6" y="391.1" class="tx">0.6</text>
<text x="491.9" y="391.1" class="tx">0.8</text>
<text x="502.1" y="391.1" class="tx">1</text>
<text x="512.4" y="391.1" class="tx">1.2</text>
<text x="522.7" y="391.1" class="tx">1.4</text>
<text x="489.1" y="394.7" class="al">Z(m)</text>
<text transform="translate(441.9 351.2) rotate(-90)" class="al">Y(m)</text>
<text x="484.3" y="327.2" class="tt">t = 160 us</text>
<text class="cap" x="100.9" y="409.8" font-size="11.4" letter-spacing="0.08" fill="#1a1a1a">(<tspan font-weight="bold">a</tspan>) Atomic Ti</text>
<text class="cap" x="401.8" y="409.8" font-size="11.4" letter-spacing="0.08" fill="#1a1a1a">(<tspan font-weight="bold">b</tspan>) Ti<tspan font-size="6.5" dy="-2.6">2+</tspan></text>
</svg></body></html>
